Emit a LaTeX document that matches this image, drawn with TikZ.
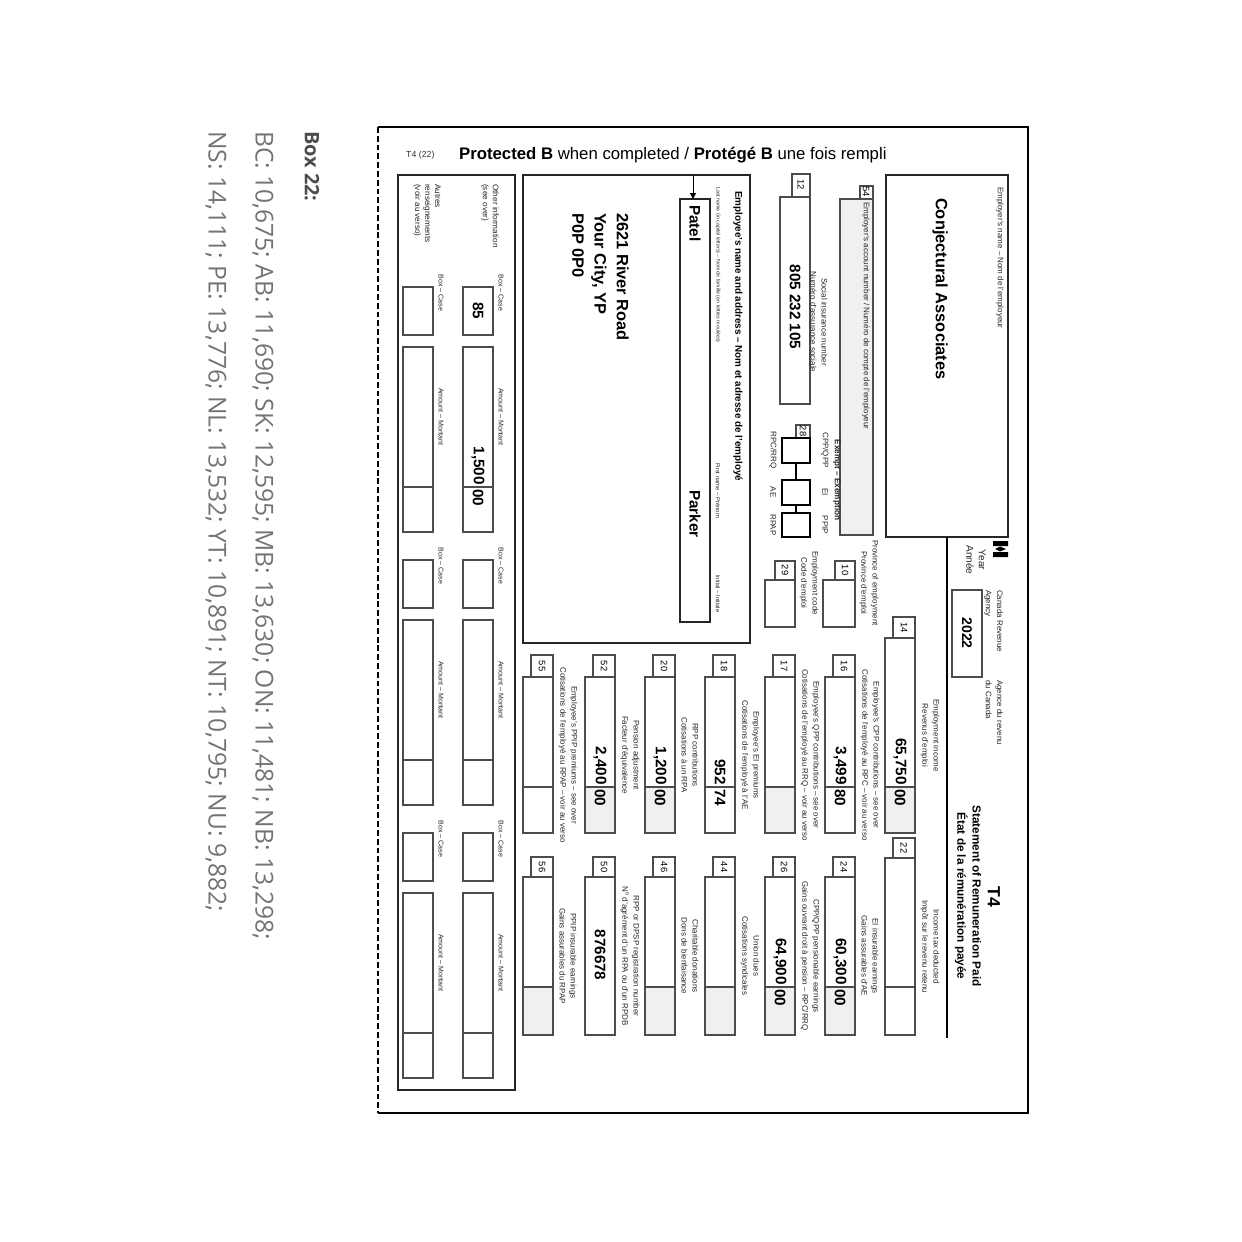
\documentclass[tikz,border=0pt]{standalone}
\usepackage{fontspec}
\setmainfont{Liberation Sans}
\newfontfamily\notefont{Open Sans}
\usetikzlibrary{arrows.meta}
\tikzset{
   lbl/.style={rotate=-90, font=\fontsize{6.8}{9.5}\selectfont, align=center, inner sep=0pt, text=black!85},
   numlbl/.style={rotate=-90, font=\fontsize{8}{9}\selectfont, inner sep=0pt},
   valtxt/.style={rotate=-90, font=\fontsize{13}{15}\selectfont\bfseries, inner sep=0pt},
   fieldline/.style={draw=black!70, line width=1pt},
   heavy/.style={draw=black!85, line width=1.6pt},
   shd/.style={fill=black!6},
   blank/.style={fill=white},
}
% one numbered amount box: x, label top, field top, divider, end, number, caption, fill
\newcommand{\amtrow}[8]{%
   \fill[#8] (#1,#4) rectangle (#1+30,#5);
   \draw[fieldline] (#1,#3) rectangle (#1+30,#5);
   \draw[fieldline] (#1,#4) -- (#1+30,#4);
   \draw[fieldline] (#1+8,#2) rectangle (#1+30,#3);
   \node[numlbl] at (#1+19,{(#2+#3)/2}) {#6};
   \node[lbl] at (#1+45,{(#3+#5)/2}) {#7};
}
\newcommand{\amt}[4]{%
   \node[valtxt, anchor=east] at (#1,#2-2) {#3};
   \node[valtxt, anchor=west] at (#1,#2+2) {#4};
}
\begin{document}
\begin{tikzpicture}[x=0.03cm, y=-0.03cm]
            \useasboundingbox (0,0) rectangle (1242,1242);
            % frame
            \draw[line width=2pt] (378,127) -- (1028,127) -- (1028,1113) -- (378,1113);
            \draw[line width=1.6pt, dash pattern=on 5pt off 2.5pt] (378,127) -- (378,1113);
            \node[anchor=west, font=\fontsize{7.5}{9}\selectfont, text=black!80] (formno) at (402,155) {T4 (22)};
            \node[anchor=west, font=\fontsize{14.3}{16}\selectfont] (prot) at (455,155)
               {\textbf{Protected B} when completed / \textbf{Protégé B} une fois rempli};

            % employer
            \draw[heavy] (886,175) rectangle (1008,537);
            \node[lbl, anchor=west] (emplrcap) at (1000,187) {Employer's name – Nom de l'employeur};
            \node[rotate=-90, anchor=west, font=\fontsize{14}{16}\selectfont\bfseries] (emplr) at (940,194) {Conjectural Associates};
            \draw[line width=1.4pt] (947,537) -- (947,1038);
            \fill[black!6] (840,199) rectangle (873,535);
            \draw[fieldline] (840,199) rectangle (873,535);
            \draw[fieldline] (860,186) rectangle (873,199);
            \node[numlbl] at (866,192) {54};
            \node[lbl, anchor=west] (acct) at (866,202) {Employer's account number / Numéro de compte de l'employeur};

            % SIN
            \draw[fieldline] (780,197) rectangle (810,404);
            \draw[fieldline] (792,174) rectangle (810,197);
            \node[numlbl] at (801,185) {12};
            \node[lbl] (sincap) at (819,322) {Social insurance number\\Numéro d'assurance sociale};
            \node[valtxt] (sin) at (795,307) {805 232 105};

            % exemption
            \draw[fieldline] (796,425) rectangle (810,438);
            \node[numlbl] at (803,431) {28};
            \draw[line width=1pt] (796,463) -- (796,480) (796,505) -- (796,513);
            \foreach \ya/\yb in {438/463, 480/505, 513/537}
               \draw[line width=1.3pt] (782,\ya) rectangle (810,\yb);
            \node[lbl, font=\fontsize{7}{9}\selectfont\bfseries] (exem) at (837,480) {Exempt – Exemption};
            \foreach \yc/\ta/\tb in {450/CPP\slash QPP/RPC\slash RRQ, 492/EI/AE, 525/PPIP/RPAP}{
               \node[lbl] at (825,\yc) {\ta};
               \node[lbl] at (773,\yc) {\tb};
            }

            % year and agency
            \fill (993,541) rectangle (1008,546) (993,552) rectangle (1008,557);
            \fill (995,549) -- (1000,546.5) -- (1006,549) -- (1000,551.5) -- cycle;
            \node[lbl, font=\fontsize{8.5}{10.5}\selectfont] (year) at (976,560) {Year\\Année};
            \node[lbl, align=left, anchor=north west] (cra) at (1003,590) {Canada Revenue\\Agency};
            \node[lbl, align=left, anchor=north west] (arc) at (1003,680) {Agence du revenu\\du Canada};
            \draw[fieldline] (952,590) rectangle (982,677);
            \node[valtxt, font=\fontsize{12}{14}\selectfont\bfseries] (yr) at (967,633) {2022};
            \node[rotate=-90, font=\fontsize{15}{17}\selectfont\bfseries] (tfour) at (994,897) {T4};
            \node[rotate=-90, align=center, font=\fontsize{10}{13}\selectfont\bfseries] (title) at (968,896)
               {Statement of Remuneration Paid\\État de la rémunération payée};

            % province and code
            \draw[fieldline] (823,580) rectangle (855,627);
            \draw[fieldline] (835,561) rectangle (855,580);
            \node[numlbl] at (845,570) {10};
            \node[lbl] at (869,583) {Province of employment\\Province d'emploi};
            \draw[fieldline] (765,580) rectangle (795,627);
            \draw[fieldline] (775,561) rectangle (795,580);
            \node[numlbl] at (785,570) {29};
            \node[lbl] at (809,583) {Employment code\\Code d'emploi};

            % amount boxes
            \amtrow{885}{617}{638}{787}{833}{14}{Employment income\\Revenus d'emploi}{shd}
            \amtrow{825}{655}{677}{787}{833}{16}{Employee's CPP contributions – see over\\Cotisations de l'employé au RPC – voir au verso}{blank}
            \amtrow{765}{655}{677}{787}{833}{17}{Employee's QPP contributions – see over\\Cotisations de l'employé au RRQ – voir au verso}{shd}
            \amtrow{705}{655}{677}{787}{833}{18}{Employee's EI premiums\\Cotisations de l'employé à l'AE}{blank}
            \amtrow{645}{655}{677}{787}{833}{20}{RPP contributions\\Cotisations à un RPA}{shd}
            \amtrow{585}{655}{677}{787}{833}{52}{Pension adjustment\\Facteur d'équivalence}{shd}
            \amtrow{523}{655}{677}{787}{833}{55}{Employee's PPIP premiums – see over\\Cotisations de l'employé au RPAP – voir au verso}{blank}
            \amtrow{885}{838}{858}{987}{1035}{22}{Income tax deducted\\Impôt sur le revenu retenu}{blank}
            \amtrow{825}{857}{877}{987}{1035}{24}{EI insurable earnings\\Gains assurables d'AE}{shd}
            \amtrow{765}{857}{877}{987}{1035}{26}{CPP/QPP pensionable earnings\\Gains ouvrant droit à pension – RPC/RRQ}{shd}
            \amtrow{705}{857}{877}{987}{1035}{44}{Union dues\\Cotisations syndicales}{shd}
            \amtrow{645}{857}{877}{987}{1035}{46}{Charitable donations\\Dons de bienfaisance}{shd}
            \amtrow{585}{857}{877}{1035}{1035}{50}{RPP or DPSP registration number\\N\textsuperscript{o} d'agrément d'un RPA ou d'un RPDB}{blank}
            \amtrow{523}{857}{877}{987}{1035}{56}{PPIP insurable earnings\\Gains assurables du RPAP}{shd}
            \amt{900}{787}{65,750}{00}
            \amt{840}{787}{3,499}{80}
            \amt{720}{787}{952}{74}
            \amt{660}{787}{1,200}{00}
            \amt{600}{787}{2,400}{00}
            \amt{840}{987}{60,300}{00}
            \amt{780}{987}{64,900}{00}
            \node[valtxt] (rpp) at (600,955) {876678};

            % employee
            \draw[heavy] (523,175) rectangle (750,643);
            \node[rotate=-90, anchor=west, font=\fontsize{8.4}{10}\selectfont\bfseries] (empe) at (738,187)
               {Employee's name and address – Nom et adresse de l'employé};
            \node[lbl, anchor=west, font=\fontsize{4.5}{6}\selectfont] (lastcap) at (718,187) {Last name (in capital letters) – Nom de famille (en lettres moulées)};
            \node[lbl, anchor=west, font=\fontsize{5}{6}\selectfont] (firstcap) at (718,463) {First name – Prénom};
            \node[lbl, anchor=west, font=\fontsize{5}{6}\selectfont] (initcap) at (718,575) {Initial – Initiale};
            \draw[heavy] (680,199) rectangle (710,622);
            \coordinate (arr) at (693,175);
            \draw[-{Triangle[length=5pt,width=5pt]}, line width=0.8pt] (arr) -- (693,199);
            \node[valtxt, anchor=west] (last) at (695,205) {Patel};
            \node[valtxt, anchor=west] (first) at (695,490) {Parker};
            \node[rotate=-90, anchor=north west, align=left, font=\fontsize{14}{19}\selectfont\bfseries] (addr) at (633,209)
               {2621 River Road\\Your City, YP\\P0P 0P0};

            % other information
            \draw[heavy] (398,175) rectangle (515,1090);
            \node[lbl, anchor=north west, align=left, font=\fontsize{7}{8.5}\selectfont] (oth) at (499,184) {Other information\\(see over)};
            \node[lbl, anchor=north west, align=left, font=\fontsize{7}{8.5}\selectfont] (aut) at (441,184) {Autres\\renseignements\\(voir au verso)};
            \foreach \g in {0,273,546}{
               \foreach \r in {463,403}{
                  \draw[fieldline] (\r,287+\g) rectangle (\r+30,335+\g);
                  \draw[fieldline] (\r,347+\g) rectangle (\r+30,532+\g);
                  \draw[fieldline] (\r,487+\g) -- (\r+30,487+\g);
                  \node[lbl, font=\fontsize{6}{7}\selectfont] at (\r+38,293+\g) {Box – Case};
                  \node[lbl, font=\fontsize{6}{7}\selectfont] at (\r+38,417+\g) {Amount – Montant};
               }
            }
            \node[valtxt] (code) at (478,311) {85};
            \amt{478}{487}{1,500}{00}

            % provincial amounts
            \node[rotate=-90, anchor=west, font=\notefont\fontsize{17}{20}\selectfont\bfseries, text=black!70] (boxhead) at (312,127) {Box 22:};
            \node[rotate=-90, anchor=west, font=\notefont\fontsize{21}{24}\selectfont, text=black!55] (lineA) at (263,127)
               {BC: 10,675; AB: 11,690; SK: 12,595; MB: 13,630; ON: 11,481; NB: 13,298;};
            \node[rotate=-90, anchor=west, font=\notefont\fontsize{21}{24}\selectfont, text=black!55] (lineB) at (216,127)
               {NS: 14,111; PE: 13,776; NL: 13,532; YT: 10,891; NT: 10,795; NU: 9,882;};
\end{tikzpicture}
\end{document}
